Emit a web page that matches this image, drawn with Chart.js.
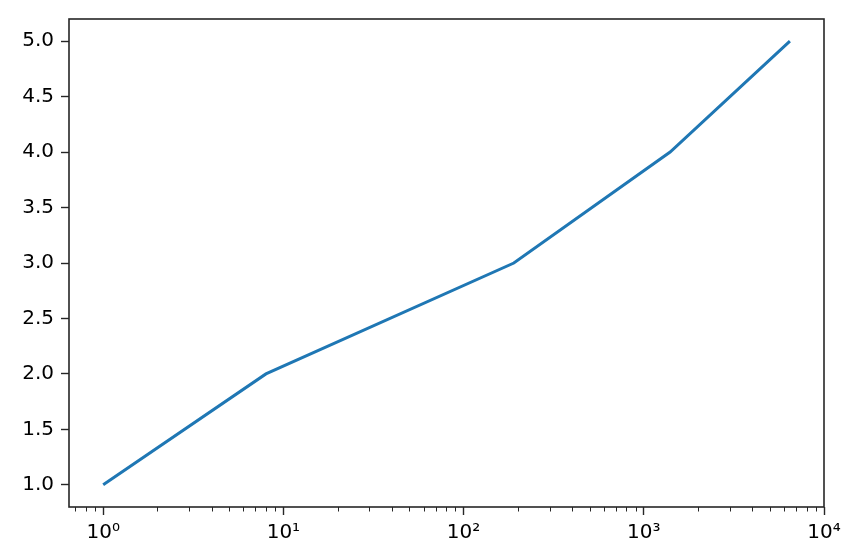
<!DOCTYPE html>
<html>
<head>
<meta charset="utf-8">
<script src="https://cdn.jsdelivr.net/npm/chart.js@4/dist/chart.umd.min.js"></script>
<style>
  html, body { margin: 0; padding: 0; background: #ffffff; }
  #chart { display: block; }
</style>
</head>
<body>
<canvas id="chart" width="848" height="559"></canvas>
<script>
// values (x on a log axis)
const xValues = [1, 8, 190, 1400, 6470];
const yValues = [1, 2, 3, 4, 5];

const xMajorTicks = [1, 10, 100, 1000, 10000];
const xTickLabels = ["10\u2070", "10\u00B9", "10\u00B2", "10\u00B3", "10\u2074"];
const yTicks = [1.0, 1.5, 2.0, 2.5, 3.0, 3.5, 4.0, 4.5, 5.0];

const xMin = 0.646;
const xMax = 10000;
const yMin = 0.8;
const yMax = 5.2;

const lineColor = "#1f77b4";
const axisColor = "#262626";
const font = { family: "'DejaVu Sans', sans-serif", size: 20 };

// minor ticks 2..9 per decade, inside the axis range
const xMinorTicks = [];
for (let d = 0.1; d <= 1000; d *= 10) {
    for (let m = 2; m <= 9; m++) {
        const v = +(m * d).toPrecision(6);
        if (v >= xMin && v <= xMax) xMinorTicks.push(v);
    }
}

// frame + minor ticks, as matplotlib does
const framePlugin = {
    id: "frame",
    afterDraw(chart) {
        const { ctx, chartArea: a } = chart;
        const xs = chart.scales.x;
        ctx.save();
        ctx.strokeStyle = axisColor;
        ctx.lineWidth = 1;
        xMinorTicks.forEach((v) => {
            const px = Math.round(xs.getPixelForValue(v)) + 0.5;
            ctx.beginPath();
            ctx.moveTo(px, a.bottom);
            ctx.lineTo(px, a.bottom + 4.5);
            ctx.stroke();
        });
        ctx.lineWidth = 1.6;
        ctx.strokeRect(a.left, a.top, a.right - a.left, a.bottom - a.top);
        ctx.restore();
    }
};

new Chart(document.getElementById("chart"), {

    type: "line",

    data: {
        datasets: [
            {
                data: xValues.map((x, i) => ({ x, y: yValues[i] })),
                borderColor: lineColor,
                borderWidth: 3,
                pointRadius: 0,
                tension: 0,
                fill: false
            }
        ]
    },

    options: {
        responsive: false,
        animation: false,
        devicePixelRatio: 1,
        layout: {
            padding: { left: 0, right: 24, top: 19, bottom: 0 }
        },
        plugins: {
            legend: { display: false },
            tooltip: { enabled: false }
        },
        scales: {
            x: {
                type: "logarithmic",
                bounds: "data",
                min: xMin,
                max: xMax,
                afterBuildTicks(scale) {
                    scale.ticks = xMajorTicks.map((value) => ({ value }));
                },
                afterFit(scale) {
                    scale.height = 52;
                },
                border: { display: false },
                grid: {
                    display: true,
                    drawOnChartArea: false,
                    drawTicks: true,
                    tickLength: 8,
                    tickColor: axisColor,
                    tickWidth: 1.4
                },
                ticks: {
                    autoSkip: false,
                    maxRotation: 0,
                    padding: 6,
                    color: "#000000",
                    font,
                    callback(value) {
                        const i = xMajorTicks.indexOf(value);
                        return i >= 0 ? xTickLabels[i] : "";
                    }
                }
            },
            y: {
                type: "linear",
                bounds: "data",
                min: yMin,
                max: yMax,
                afterBuildTicks(scale) {
                    scale.ticks = yTicks.map((value) => ({ value }));
                },
                afterFit(scale) {
                    scale.width = 69;
                },
                border: { display: false },
                grid: {
                    display: true,
                    drawOnChartArea: false,
                    drawTicks: true,
                    tickLength: 8,
                    tickColor: axisColor,
                    tickWidth: 1.4
                },
                ticks: {
                    autoSkip: false,
                    padding: 7,
                    color: "#000000",
                    font,
                    callback(value) {
                        return Number(value).toFixed(1);
                    }
                }
            }
        }
    },

    plugins: [framePlugin]

});
</script>
</body>
</html>
